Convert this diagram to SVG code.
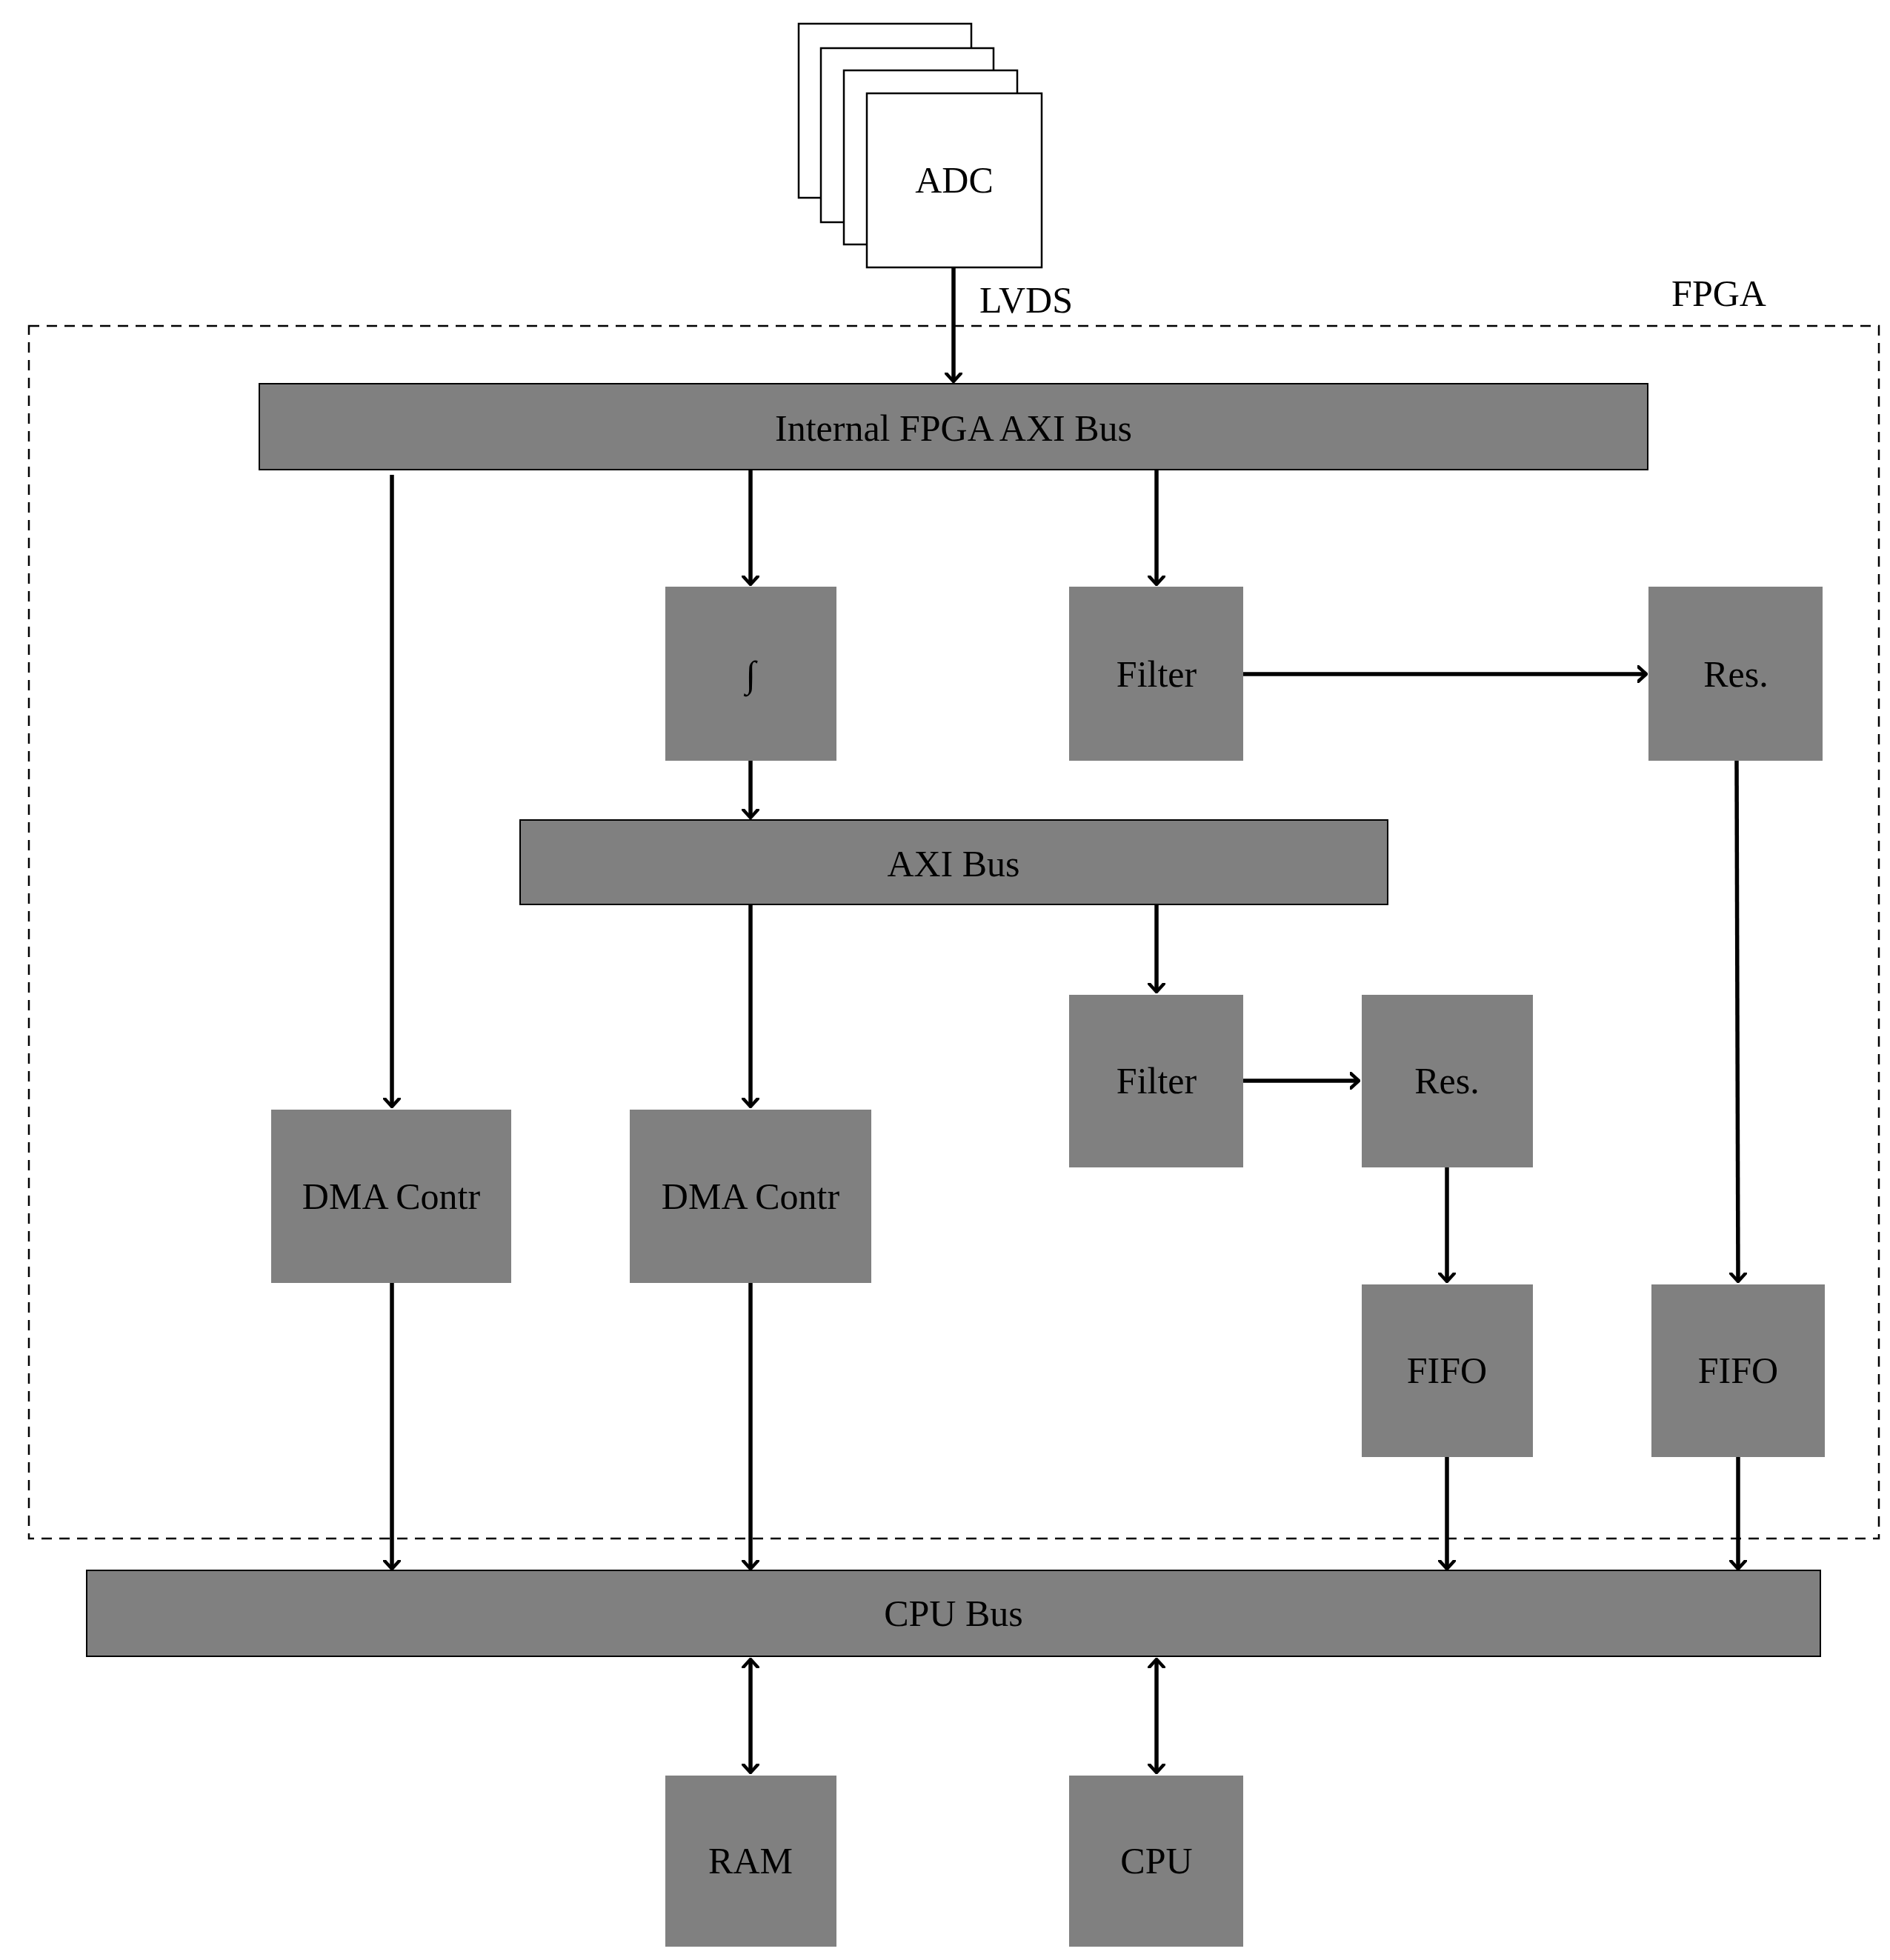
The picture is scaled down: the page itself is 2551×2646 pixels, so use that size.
<svg xmlns="http://www.w3.org/2000/svg" width="2551" height="2646" viewBox="0 0 2551 2646">
<defs>
<marker id="ah" viewBox="-12 -12 14 24" markerWidth="14" markerHeight="24" refX="0" refY="0" orient="auto-start-reverse" markerUnits="userSpaceOnUse">
<path d="M-11,-10 L0,0 L-11,10" fill="none" stroke="#000" stroke-width="4.5" stroke-linecap="round" stroke-linejoin="round"/>
</marker>
<style>
.blk{fill:#808080}
.bus{fill:#808080;stroke:#000;stroke-width:2}
.adc{fill:#fff;stroke:#000;stroke-width:2.5}
.t{font-family:"Liberation Serif",serif;font-size:50px;fill:#000;text-anchor:middle;dominant-baseline:central}
.c{stroke:#000;stroke-width:5.5;fill:none;marker-end:url(#ah)}
.b{marker-start:url(#ah)}
</style>
</defs>
<rect x="39" y="440" width="2497" height="1637" fill="none" stroke="#000" stroke-width="2.5" stroke-dasharray="14,10"/>
<text class="t" x="2320" y="396">FPGA</text>
<g id="adc">
<rect class="adc" x="1078" y="32" width="233" height="235"/>
<rect class="adc" x="1108" y="65" width="233" height="235"/>
<rect class="adc" x="1139" y="95" width="234" height="235"/>
<rect class="adc" x="1170" y="126" width="236" height="235"/>
<text class="t" x="1288" y="243">ADC</text>
</g>
<g id="ibus"><rect class="bus" x="350" y="518" width="1874" height="116"/><text class="t" x="1287" y="578">Internal FPGA AXI Bus</text></g>
<g id="integ"><rect class="blk" x="898" y="792" width="231" height="235"/><text class="t" x="1013" y="910" font-size="70" font-style="italic">∫</text></g>
<g id="filter1"><rect class="blk" x="1443" y="792" width="235" height="235"/><text class="t" x="1561" y="910">Filter</text></g>
<g id="res1"><rect class="blk" x="2225" y="792" width="235" height="235"/><text class="t" x="2343" y="910">Res.</text></g>
<g id="axibus"><rect class="bus" x="702" y="1107" width="1171" height="114"/><text class="t" x="1287" y="1166">AXI Bus</text></g>
<g id="filter2"><rect class="blk" x="1443" y="1343" width="235" height="233"/><text class="t" x="1561" y="1459">Filter</text></g>
<g id="res2"><rect class="blk" x="1838" y="1343" width="231" height="233"/><text class="t" x="1953" y="1459">Res.</text></g>
<g id="dma1"><rect class="blk" x="366" y="1498" width="324" height="234"/><text class="t" x="528" y="1615">DMA Contr</text></g>
<g id="dma2"><rect class="blk" x="850" y="1498" width="326" height="234"/><text class="t" x="1013" y="1615">DMA Contr</text></g>
<g id="fifo1"><rect class="blk" x="1838" y="1734" width="231" height="233"/><text class="t" x="1953" y="1850">FIFO</text></g>
<g id="fifo2"><rect class="blk" x="2229" y="1734" width="234" height="233"/><text class="t" x="2346" y="1850">FIFO</text></g>
<g id="cpubus"><rect class="bus" x="117" y="2120" width="2340" height="116"/><text class="t" x="1287" y="2178">CPU Bus</text></g>
<g id="ram"><rect class="blk" x="898" y="2397" width="231" height="231"/><text class="t" x="1013" y="2512">RAM</text></g>
<g id="cpu"><rect class="blk" x="1443" y="2397" width="235" height="231"/><text class="t" x="1561" y="2512">CPU</text></g>
<g id="connectors">
<line class="c" x1="1287" y1="361" x2="1287" y2="515"/>
<text class="t" x="1385" y="405">LVDS</text>
<line class="c" x1="529" y1="641" x2="529" y2="1494"/>
<line class="c" x1="1013" y1="634" x2="1013" y2="789"/>
<line class="c" x1="1561" y1="634" x2="1561" y2="789"/>
<line class="c" x1="1678" y1="910" x2="2222" y2="910"/>
<line class="c" x1="1013" y1="1027" x2="1013" y2="1104"/>
<line class="c" x1="1013" y1="1221" x2="1013" y2="1494"/>
<line class="c" x1="1561" y1="1221" x2="1561" y2="1339"/>
<line class="c" x1="1678" y1="1459" x2="1834" y2="1459"/>
<line class="c" x1="1953" y1="1576" x2="1953" y2="1730"/>
<line class="c" x1="2344" y1="1027" x2="2346" y2="1730"/>
<line class="c" x1="529" y1="1732" x2="529" y2="2118"/>
<line class="c" x1="1013" y1="1732" x2="1013" y2="2118"/>
<line class="c" x1="1953" y1="1967" x2="1953" y2="2118"/>
<line class="c" x1="2346" y1="1967" x2="2346" y2="2118"/>
<line class="c b" x1="1013" y1="2240" x2="1013" y2="2393"/>
<line class="c b" x1="1561" y1="2240" x2="1561" y2="2393"/>
</g>
</svg>
